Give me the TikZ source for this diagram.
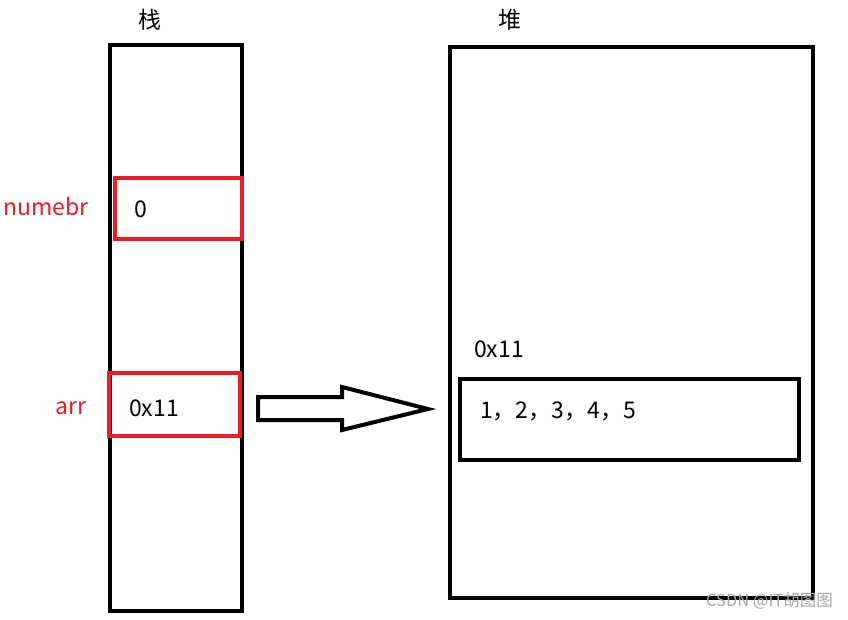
\documentclass[tikz,border=0pt]{standalone}
\usepackage{fontspec}
\usepackage{xcolor}
\setmainfont{Noto Sans CJK SC}
\definecolor{boxred}{RGB}{237,28,36}

\begin{document}
\begin{tikzpicture}[x=1pt, y=-1pt,
    mem/.style = {draw, line width=4pt, inner sep=0pt},
    cell/.style = {draw=boxred, line width=4pt, inner sep=0pt},
    txt/.style = {font=\fontsize{23}{27}\selectfont, inner sep=0pt},
    redtxt/.style = {txt, text=boxred}]
        \useasboundingbox (0,0) rectangle (848,619);
        % stack and heap
        \node[mem, minimum width=132pt, minimum height=566pt] (stack) at (176,328) {};
        \node[mem, minimum width=363pt, minimum height=551pt] (heap) at (631.5,322.5) {};
        \node[txt] (stacklabel) at (150,20) {栈};
        \node[txt] (heaplabel) at (510,20) {堆};
        % variables on the stack
        \node[cell, minimum width=127pt, minimum height=61pt] (number) at (178.5,208.5) {};
        \node[cell, minimum width=131pt, minimum height=63pt] (arr) at (174.5,404.5) {};
        \node[txt, anchor=west] (numval) at (134,209) {0};
        \node[txt, anchor=west] (arrval) at (129,408) {0x11};
        \node[redtxt] (numname) at (46,206) {numebr};
        \node[redtxt] (arrname) at (71,408) {arr};
        % array in the heap
        \node[mem, minimum width=339pt, minimum height=81pt] (array) at (629.5,419.5) {};
        \node[txt, anchor=west] (addr) at (474,349) {0x11};
        \node[txt, anchor=west] (elems) at (480,411) {1，2，3，4，5};
        % pointer arrow
        \draw[line width=4pt, line join=miter]
            (258,397) -- (342,397) -- (342,387) -- (428,409)
            -- (342,430) -- (342,420) -- (258,420) -- cycle;
        \node[font=\fontsize{16.5}{19}\selectfont, text=black!35, anchor=east, inner sep=0pt] (mark) at (833,601) {CSDN @IT胡图图};
      \end{tikzpicture}
\end{document}
